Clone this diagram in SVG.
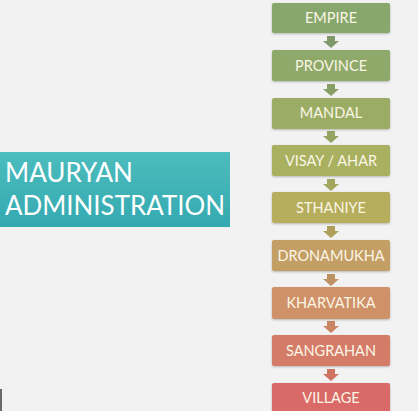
<svg xmlns="http://www.w3.org/2000/svg" width="418" height="411" viewBox="0 0 418 411">
<defs>
<linearGradient id="teal" x1="0" y1="0" x2="0" y2="1">
<stop offset="0" stop-color="#4dbdbd"/>
<stop offset="1" stop-color="#33a9b0"/>
</linearGradient>
<filter id="sh" x="-10%" y="-10%" width="120%" height="130%">
<feDropShadow dx="0" dy="1" stdDeviation="1" flood-color="#000" flood-opacity="0.25"/>
</filter>
</defs>
<style>
.box{filter:url(#sh)}
.lbl{font-family:Lato,"Open Sans",sans-serif;font-size:14.5px;fill:#fbf6e6;text-anchor:middle}
.title{font-family:Lato,"Open Sans",sans-serif;font-size:26px;fill:#ffffff}
</style>
<rect width="418" height="411" fill="#f2f2f2"/>
<rect x="0" y="389" width="2" height="22" fill="#6a6a6a"/>
<g id="title">
<rect x="0" y="152" width="230" height="75" fill="url(#teal)"/>
<text class="title" x="5" y="182">MAURYAN</text>
<text class="title" x="5" y="215" textLength="220" lengthAdjust="spacingAndGlyphs">ADMINISTRATION</text>
</g>
<g id="connectors">
<path d="M327 36h8v5h4l-8 7l-8-7h4z" fill="#7f9a68"/>
<path d="M327 84h8v5h4l-8 7l-8-7h4z" fill="#879e66"/>
<path d="M327 131h8v5h4l-8 7l-8-7h4z" fill="#95a463"/>
<path d="M327 179h8v5h4l-8 7l-8-7h4z" fill="#a3a65e"/>
<path d="M327 226h8v5h4l-8 7l-8-7h4z" fill="#b09f5c"/>
<path d="M327 274h8v5h4l-8 7l-8-7h4z" fill="#bd9262"/>
<path d="M327 321h8v5h4l-8 7l-8-7h4z" fill="#c98564"/>
<path d="M327 369h8v5h4l-8 7l-8-7h4z" fill="#cf7363"/>
</g>
<g id="n1"><rect class="box" x="272" y="3" width="118" height="30" rx="2" fill="#87a76c"/><text class="lbl" x="331" y="23">EMPIRE</text></g>
<g id="n2"><rect class="box" x="272" y="50" width="118" height="31" rx="2" fill="#8ea96a"/><text class="lbl" x="331" y="71">PROVINCE</text></g>
<g id="n3"><rect class="box" x="272" y="98" width="118" height="31" rx="2" fill="#9bad65"/><text class="lbl" x="331" y="118">MANDAL</text></g>
<g id="n4"><rect class="box" x="272" y="145" width="118" height="31" rx="2" fill="#a9b061"/><text class="lbl" x="331" y="166">VISAY / AHAR</text></g>
<g id="n5"><rect class="box" x="272" y="192" width="118" height="31" rx="2" fill="#b6ad5d"/><text class="lbl" x="331" y="213">STHANIYE</text></g>
<g id="n6"><rect class="box" x="272" y="240" width="118" height="31" rx="2" fill="#c39e65"/><text class="lbl" x="331" y="261">DRONAMUKHA</text></g>
<g id="n7"><rect class="box" x="272" y="287" width="118" height="32" rx="2" fill="#cf9168"/><text class="lbl" x="331" y="308">KHARVATIKA</text></g>
<g id="n8"><rect class="box" x="272" y="335" width="118" height="31" rx="2" fill="#d57c67"/><text class="lbl" x="331" y="356">SANGRAHAN</text></g>
<g id="n9"><rect class="box" x="272" y="383" width="118" height="32" rx="2" fill="#d96b67"/><text class="lbl" x="331" y="403">VILLAGE</text></g>
</svg>
